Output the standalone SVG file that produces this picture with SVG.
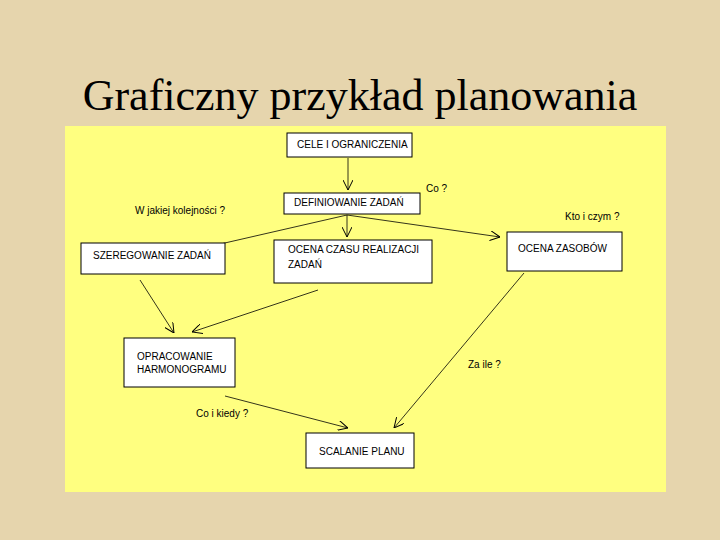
<svg xmlns="http://www.w3.org/2000/svg" width="720" height="540" viewBox="0 0 720 540">
<style>
.b{fill:#fff;stroke:#000;stroke-width:1}
.t{font-family:"Liberation Sans",Arial,sans-serif;font-size:10px;fill:#000}
.c line{stroke:#000;stroke-width:0.8;marker-end:url(#a)}
</style>
<defs>
<marker id="a" viewBox="0 0 10 10" refX="10" refY="5" markerWidth="10" markerHeight="10" orient="auto" markerUnits="userSpaceOnUse"><path d="M0,0 L10,5 L0,10" fill="none" stroke="#000"/></marker>
</defs>
<rect width="720" height="540" fill="#e6d5ad"/>
<text x="360" y="110" text-anchor="middle" font-family="'Liberation Serif','Times New Roman',serif" font-size="44" fill="#000">Graficzny przykład planowania</text>
<rect x="65" y="126" width="601" height="366" fill="#ffff80"/>
<g class="c">
<line x1="348" y1="158" x2="348" y2="190"/>
<line x1="347" y1="215" x2="168" y2="256"/>
<line x1="347" y1="215" x2="347" y2="237"/>
<line x1="347" y1="215" x2="500" y2="237"/>
<line x1="140" y1="280" x2="174" y2="333"/>
<line x1="318" y1="290" x2="192" y2="332"/>
<line x1="524" y1="273" x2="394" y2="428"/>
<line x1="225" y1="396" x2="348" y2="428"/>
</g>
<g id="cele"><rect class="b" x="287" y="133" width="125" height="24"/><text class="t" x="297" y="148">CELE I OGRANICZENIA</text></g>
<g id="def"><rect class="b" x="284" y="193" width="136" height="21"/><text class="t" x="294" y="206">DEFINIOWANIE ZADAŃ</text></g>
<g id="szer"><rect class="b" x="81" y="243" width="144" height="31"/><text class="t" x="93" y="259">SZEREGOWANIE ZADAŃ</text></g>
<g id="czas"><rect class="b" x="274" y="240" width="158" height="43"/><text class="t" x="288" y="253">OCENA CZASU REALIZACJI</text><text class="t" x="288" y="268">ZADAŃ</text></g>
<g id="zas"><rect class="b" x="507" y="232" width="115" height="39"/><text class="t" x="518" y="252">OCENA ZASOBÓW</text></g>
<g id="opr"><rect class="b" x="124" y="338" width="111" height="49"/><text class="t" x="137" y="360">OPRACOWANIE</text><text class="t" x="137" y="373">HARMONOGRAMU</text></g>
<g id="scal"><rect class="b" x="306" y="433" width="108" height="35"/><text class="t" x="319" y="455">SCALANIE PLANU</text></g>
<text class="t" x="426" y="192">Co ?</text>
<text class="t" x="135" y="214">W jakiej kolejności ?</text>
<text class="t" x="565" y="220">Kto i czym ?</text>
<text class="t" x="468" y="368">Za ile ?</text>
<text class="t" x="196" y="417">Co i kiedy ?</text>
</svg>
